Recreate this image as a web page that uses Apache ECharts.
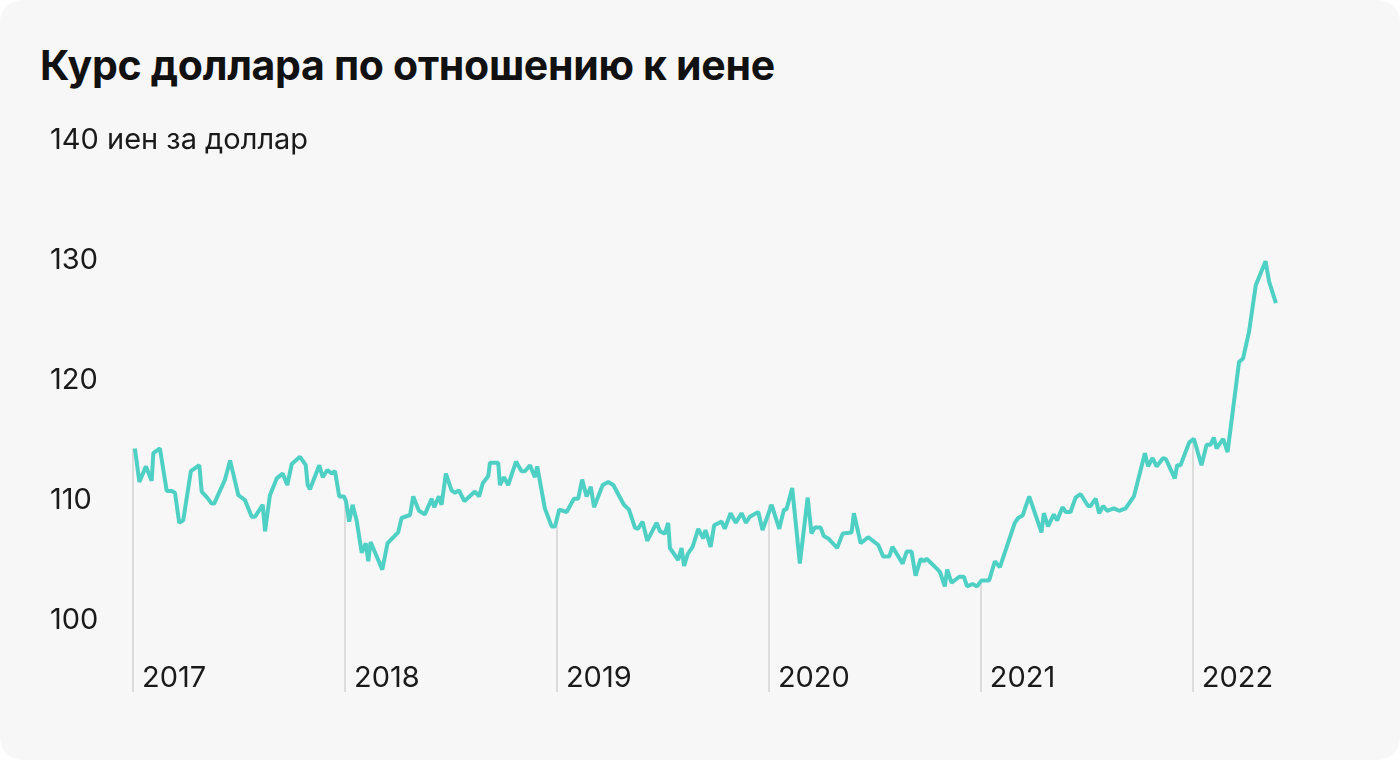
<!DOCTYPE html>
<html><head><meta charset="utf-8">
<script src="https://cdn.jsdelivr.net/npm/echarts@6/dist/echarts.min.js"></script>
<style>
html,body{margin:0;padding:0;background:#fff;width:1400px;height:760px;overflow:hidden}
#card{position:absolute;left:0;top:0;width:1400px;height:760px;background:#f7f7f7;border-radius:22px}
#title{position:absolute;left:40px;top:40px;font:700 41px Inter,Roboto,sans-serif;color:#111;letter-spacing:-0.3px}
#c{position:absolute;left:0;top:0;width:1400px;height:760px}
</style></head><body>
<div id="card"></div>
<div id="title">Курс доллара по отношению к иене</div>
<div id="c"></div>
<script>
const title = 'Курс доллара по отношению к иене';
const unitLabel = 'иен за доллар';
const years = [2017, 2018, 2019, 2020, 2021, 2022];
// time offset in years from start of 2017
const t = [.009,.030,.061,.088,.096,.127,.159,.183,.198,.218,.237,.273,.313,.324,.350,.371,.383,.434,.458,.497,.528,.560,.575,.612,.623,.646,.678,.706,.728,.749,.788,.815,.824,.835,.879,.895,.917,.937,.953,.973,.995,
1.005,1.020,1.036,1.055,1.079,1.098,1.110,1.121,1.176,1.201,1.251,1.267,1.307,1.322,1.349,1.377,1.409,1.421,1.443,1.456,1.476,1.503,1.519,1.538,1.563,1.613,1.633,1.650,1.676,1.684,1.723,1.731,1.750,1.770,1.807,1.833,1.849,1.873,1.896,1.907,1.943,1.975,1.991,
2.011,2.046,2.080,2.100,2.119,2.140,2.160,2.175,2.216,2.242,2.266,2.316,2.340,2.368,2.383,2.404,2.426,2.470,2.486,2.509,2.525,2.533,2.572,2.588,2.600,2.617,2.640,2.667,2.690,2.701,2.725,2.742,2.777,2.792,2.819,2.844,2.871,2.892,2.910,2.950,2.970,
3.013,3.049,3.071,3.083,3.110,3.146,3.183,3.201,3.217,3.244,3.259,3.280,3.322,3.348,3.390,3.401,3.433,3.468,3.516,3.539,3.568,3.583,3.631,3.650,3.673,3.692,3.716,3.731,3.744,3.791,3.807,3.830,3.841,3.862,3.898,3.920,3.935,3.961,3.982,
4.003,4.039,4.066,4.090,4.160,4.176,4.197,4.228,4.286,4.297,4.317,4.344,4.360,4.385,4.401,4.423,4.447,4.470,4.506,4.517,4.542,4.558,4.577,4.596,4.627,4.652,4.683,4.722,4.774,4.789,4.810,4.829,4.860,4.873,4.915,4.926,4.942,4.983,
5.005,5.041,5.065,5.083,5.099,5.112,5.143,5.164,5.218,5.237,5.265,5.297,5.343,5.360,5.392];
const usdjpy = [114.3,111.5,112.8,111.6,113.9,114.3,110.75,110.75,110.6,108.1,108.3,112.4,112.9,110.7,110.2,109.7,109.7,111.7,113.3,110.4,110.0,108.6,108.6,109.6,107.4,110.4,111.8,112.2,111.25,113.0,113.6,112.9,111.25,110.9,112.9,111.9,112.5,112.2,112.4,110.3,110.3,
109.9,108.2,109.6,108.3,105.6,106.4,104.9,106.5,104.2,106.4,107.3,108.5,108.75,110.3,109.1,108.8,110.1,109.4,110.3,109.6,112.2,110.8,110.6,110.8,109.9,110.7,110.3,111.4,112.0,113.1,113.1,111.25,111.9,111.25,113.2,112.4,112.4,112.9,111.9,112.8,109.3,107.8,107.8,
109.2,109.0,110.1,110.1,111.7,110.3,111.1,109.4,111.25,111.5,111.25,109.6,109.2,107.7,107.6,108.2,106.6,108.1,107.4,107.2,108.1,106.0,105.0,106.0,104.5,105.5,106.1,107.6,106.8,107.5,106.1,107.9,108.2,107.6,108.9,108.1,108.9,108.1,108.6,109.0,107.5,
109.6,107.6,109.2,109.2,111.0,104.7,110.2,107.2,107.7,107.7,107.0,106.8,106.0,107.2,107.3,108.9,106.4,106.9,106.25,105.3,105.3,106.1,104.7,105.7,105.7,103.7,105.1,104.9,105.1,104.3,104.0,102.8,104.2,103.1,103.6,103.6,102.8,103.0,102.8,
103.3,103.3,104.9,104.4,108.1,108.5,108.7,110.3,107.3,108.9,107.8,108.8,108.3,109.4,109.0,109.0,110.2,110.5,109.5,109.5,110.1,108.9,109.5,109.1,109.3,109.1,109.3,110.3,113.9,112.8,113.5,112.8,113.5,113.4,111.8,112.9,112.9,114.8,
115.1,112.9,114.6,114.6,115.2,114.3,115.1,114.0,121.5,121.8,124.0,127.9,129.9,128.2,126.4];
const yTicks = [100, 110, 120, 130, 140];
const yMin = 94;

const data = t.map((d, i) => [years[0] + d, usdjpy[i]]);
function valueAt(y) {
  let best = data[0];
  for (const p of data) if (Math.abs(p[0] - y) < Math.abs(best[0] - y)) best = p;
  return best[1];
}
const yearLines = years.map(y => [{coord: [y, valueAt(y)]}, {coord: [y, yMin]}]);

const chart = echarts.init(document.getElementById('c'));
chart.setOption({
  animation: false,
  grid: {left: 133, right: 80, top: 140, bottom: 68},
  xAxis: {
    type: 'value', min: years[0], max: 2022.6, interval: 1,
    axisLine: {show: false}, axisTick: {show: false}, splitLine: {show: false},
    axisLabel: {
      margin: -28, align: 'left', verticalAlign: 'top', padding: [0, 0, 0, 9],
      fontSize: 29, color: '#1a1a1a', fontFamily: 'Inter, Roboto, sans-serif',
      formatter: v => (years.includes(Math.round(v)) && Math.abs(v - Math.round(v)) < 1e-6) ? String(Math.round(v)) : '',
      showMaxLabel: false
    }
  },
  yAxis: {
    type: 'value', min: yMin, max: 140, interval: 2,
    axisLine: {show: false}, axisTick: {show: false}, splitLine: {show: false},
    axisLabel: {
      align: 'left', margin: 83, fontSize: 29, color: '#1a1a1a', fontFamily: 'Inter, Roboto, sans-serif',
      formatter: v => yTicks.includes(v) ? (v === 140 ? v + ' ' + unitLabel : String(v)) : ''
    }
  },
  series: [{
    type: 'line', data: data, showSymbol: false, symbol: 'none',
    lineStyle: {color: '#4fd0c4', width: 4}, z: 3,
    markLine: {
      silent: true, symbol: 'none', label: {show: false},
      lineStyle: {color: '#dcdcdc', width: 2, type: 'solid'},
      data: yearLines, z: 1
    }
  }]
});
</script>
</body></html>
